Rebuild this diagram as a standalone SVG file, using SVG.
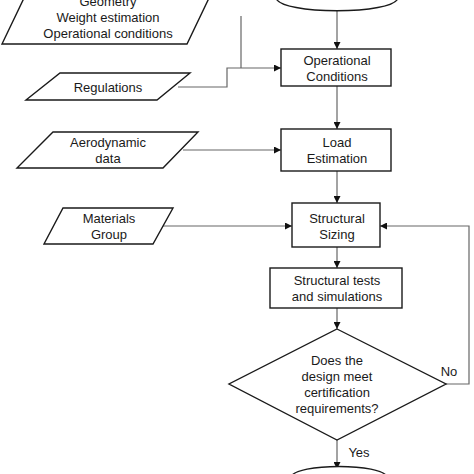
<svg xmlns="http://www.w3.org/2000/svg" width="474" height="474" viewBox="0 0 474 474">
<defs>
<marker id="ah" viewBox="0 0 10 10" refX="10" refY="5" markerWidth="7" markerHeight="7" markerUnits="userSpaceOnUse" orient="auto">
<path d="M0,0 L10,5 L0,10 z" fill="#111"/>
</marker>
<style>
.s{fill:#fff;stroke:#1a1a1a;stroke-width:1.4}
.c{fill:none;stroke:#666;stroke-width:1.2}
.a{marker-end:url(#ah)}
text{font-family:"Liberation Sans",Arial,sans-serif;font-size:13px;fill:#1a1a1a;text-anchor:middle}
</style>
</defs>
<rect width="474" height="474" fill="#fff"/>
<g id="connectors">
<path class="c a" d="M337,11 V49"/>
<path class="c" d="M241,16 V68"/>
<path class="c a" d="M178,87 H227 V68 H281"/>
<path class="c a" d="M337,86 V129"/>
<path class="c a" d="M183,150 H281"/>
<path class="c a" d="M337,171 V203"/>
<path class="c a" d="M163,226 H292"/>
<path class="c a" d="M337,247 V268"/>
<path class="c a" d="M337,308 V329"/>
<path class="c a" d="M446,384 H469 V226 H380"/>
<path class="c a" d="M337,440 V469"/>
<text x="449" y="376">No</text>
<text x="359" y="457">Yes</text>
</g>
<g id="start">
<path class="s" d="M276,-2 C280,15 394,15 398,-2"/>
</g>
<g id="inputs">
<polygon class="s" points="25,-4 210,-4 187,44 2,44"/>
<text x="108" y="6">Geometry</text>
<text x="108" y="22">Weight estimation</text>
<text x="108" y="38">Operational conditions</text>
</g>
<g id="regulations">
<polygon class="s" points="60,73 190,73 157,100 26,100"/>
<text x="108" y="92">Regulations</text>
</g>
<g id="operational">
<rect class="s" x="281" y="49" width="110" height="37"/>
<text x="337" y="65">Operational</text>
<text x="337" y="81">Conditions</text>
</g>
<g id="aero">
<polygon class="s" points="53,132 198,132 163,168 17,168"/>
<text x="108" y="147">Aerodynamic</text>
<text x="108" y="163">data</text>
</g>
<g id="load">
<rect class="s" x="281" y="129" width="110" height="42"/>
<text x="337" y="147">Load</text>
<text x="337" y="163">Estimation</text>
</g>
<g id="materials">
<polygon class="s" points="63,208 173,208 153,244 44,244"/>
<text x="109" y="223">Materials</text>
<text x="109" y="239">Group</text>
</g>
<g id="sizing">
<rect class="s" x="292" y="203" width="88" height="44"/>
<text x="337" y="223">Structural</text>
<text x="337" y="239">Sizing</text>
</g>
<g id="tests">
<rect class="s" x="270" y="268" width="132" height="40"/>
<text x="337" y="285">Structural tests</text>
<text x="337" y="301">and simulations</text>
</g>
<g id="decision">
<polygon class="s" points="337,329 446,384 337,440 229,384"/>
<text x="337" y="365">Does the</text>
<text x="337" y="381">design meet</text>
<text x="337" y="397">certification</text>
<text x="337" y="413">requirements?</text>
</g>
<g id="end">
<path class="s" d="M291,477 C295,463 383,463 387,477"/>
</g>
</svg>
